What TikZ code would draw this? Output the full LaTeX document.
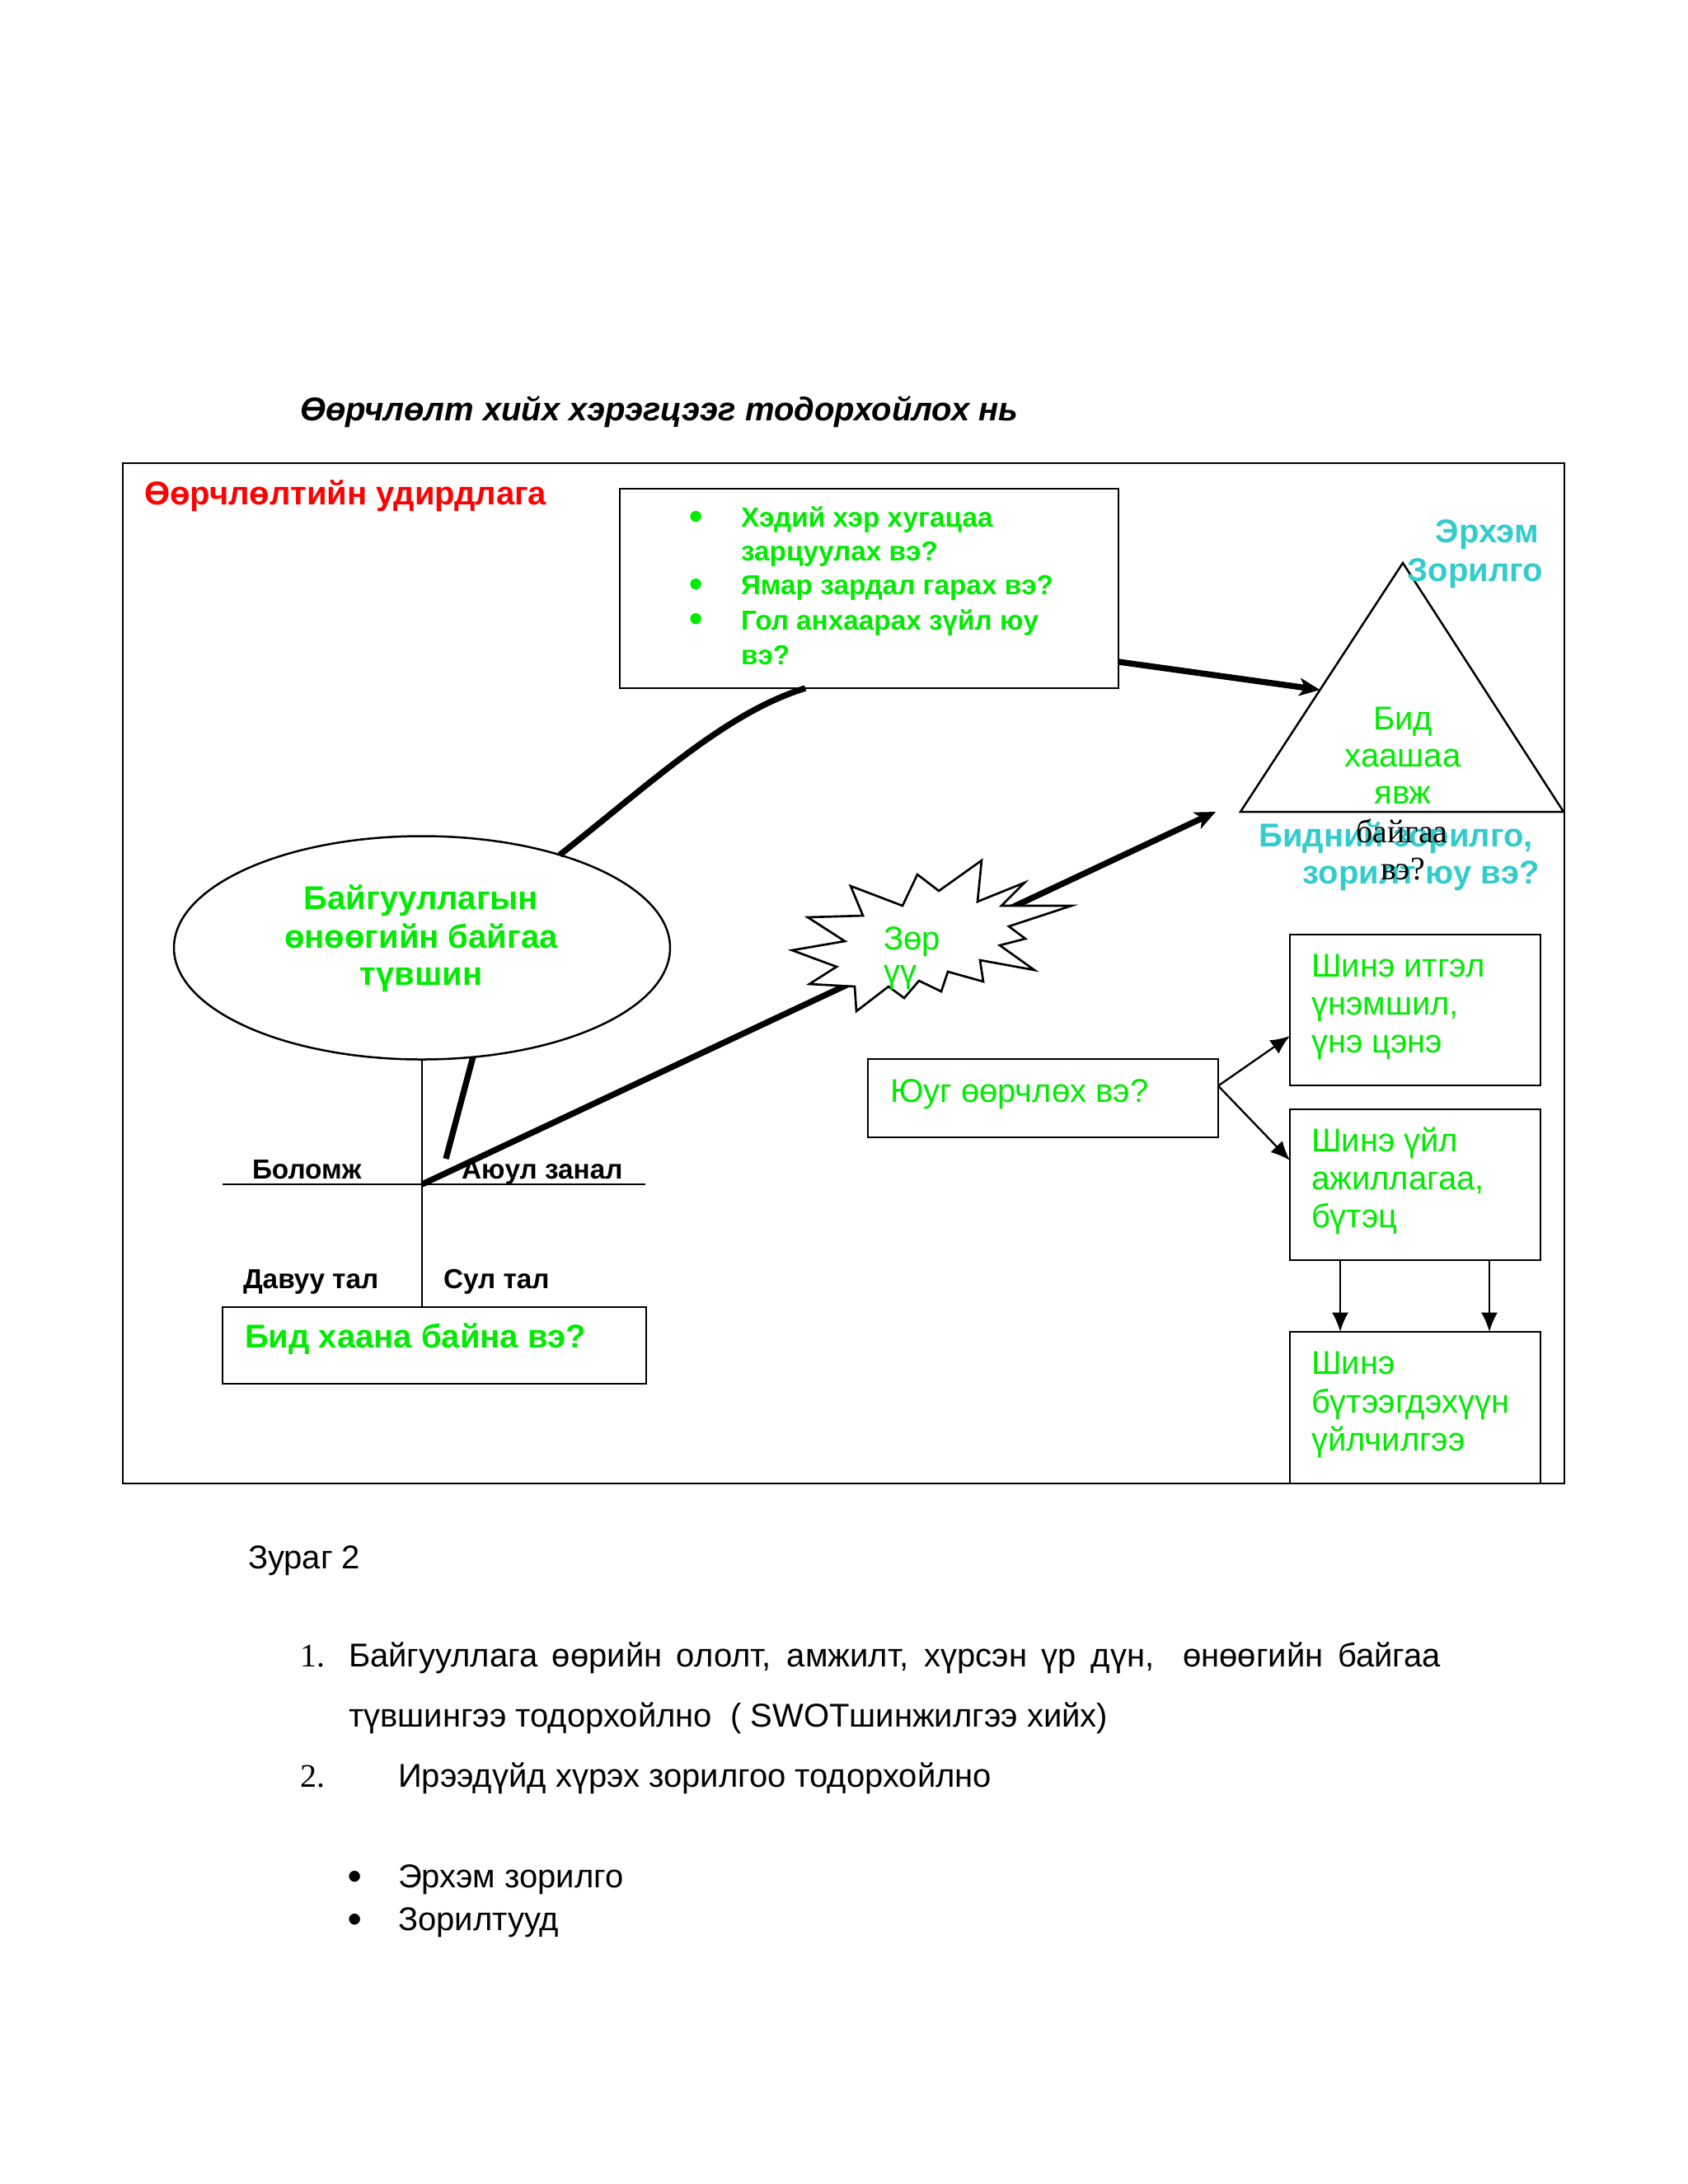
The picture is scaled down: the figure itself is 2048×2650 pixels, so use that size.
\documentclass[tikz,border=0pt]{standalone}
\usepackage{fontspec}
\setmainfont{Liberation Sans}
\newfontfamily\timesf{Liberation Serif}
\usetikzlibrary{shapes.geometric,arrows.meta,calc,fit}
\definecolor{brgreen}{RGB}{0,235,0}
\definecolor{turq}{RGB}{51,204,204}
\definecolor{myred}{RGB}{255,0,0}
\tikzset{
  t12/.style={inner sep=0pt, outer sep=0pt, font=\fontsize{12}{14}\selectfont},
  t12b/.style={inner sep=0pt, outer sep=0pt, font=\fontsize{12}{14}\selectfont\bfseries},
  t10b/.style={inner sep=0pt, outer sep=0pt, font=\fontsize{10}{12}\selectfont\bfseries},
  tbul/.style={inner sep=0pt, outer sep=0pt, font=\fontsize{14}{14}\selectfont\bfseries},
  tserif/.style={inner sep=0pt, outer sep=0pt, font=\fontsize{12}{14}\selectfont\timesf},
  tbox/.style={draw, line width=0.75pt, inner sep=0pt, outer sep=0pt},
  heavy/.style={line width=2.2pt},
  heavyarrow/.style={line width=2.2pt, -{Stealth[length=7.5pt,width=6.5pt,inset=2pt]}},
  thinarrow/.style={line width=0.7pt, -{Latex[length=7pt,width=6pt]}},
  thinline/.style={line width=0.6pt},
}
\begin{document}
\begin{tikzpicture}[x=0.3pt,y=-0.3pt]
\useasboundingbox[fill=white] (0,0) rectangle (2048,2650);

% title
\node[t12b, font=\fontsize{12}{14}\selectfont\bfseries\itshape, anchor=base west] (title) at (364,510) {Өөрчлөлт хийх хэрэгцээг тодорхойлох нь};

% frame
\node[tbox, line width=0.8pt, fit={(149,562) (1898,1800)}] (frame) {};
\node[t12b, text=myred, anchor=base west] (mgmt) at (175,612) {Өөрчлөлтийн удирдлага};

% bullet box
\node[tbox, fit={(752,593) (1357,835)}] (bq) {};
\node[tbul, text=brgreen, anchor=center] (bu1) at (845,631) {•};
\node[tbul, text=brgreen, anchor=center] (bu2) at (845,713) {•};
\node[tbul, text=brgreen, anchor=center] (bu3) at (845,755) {•};
\node[t10b, text=brgreen, anchor=base west] (q1a) at (899,639) {Хэдий хэр хугацаа};
\node[t10b, text=brgreen, anchor=base west] (q1b) at (899,680) {зарцуулах вэ?};
\node[t10b, text=brgreen, anchor=base west] (q2) at (899,721) {Ямар зардал гарах вэ?};
\node[t10b, text=brgreen, anchor=base west] (q3a) at (899,764) {Гол анхаарах зүйл юу};
\node[t10b, text=brgreen, anchor=base west] (q3b) at (899,806) {вэ?};

% triangle
\coordinate (tapex) at (1702,683);
\coordinate (tbl) at (1505,985);
\coordinate (tbr) at (1897,985);
\draw[line width=0.75pt] (tapex) -- (tbl) -- (tbr) -- cycle;
\node[t12b, text=turq, anchor=base east] (mis1) at (1867,658) {Эрхэм};
\node[t12b, text=turq, anchor=base east] (mis2) at (1872,705) {Зорилго};
\node[t12, text=brgreen, anchor=base] (tr1) at (1702,885) {Бид};
\node[t12, text=brgreen, anchor=base] (tr2) at (1702,930) {хаашаа};
\node[t12, text=brgreen, anchor=base] (tr3) at (1702,975) {явж};
\node[t12b, text=turq, anchor=base east] (goal1) at (1860,1027) {Бидний зорилго,};
\node[t12b, text=turq, anchor=base east] (goal2) at (1868,1072) {зорилт юу вэ?};
\node[tserif, anchor=base] (tr4) at (1701,1022) {байгаа};
\node[tserif, anchor=base] (tr5) at (1702,1067) {вэ?};

% ellipse
\node[draw, ellipse, line width=0.75pt, inner sep=0pt, outer sep=0pt, minimum width=180.6pt, minimum height=81.3pt] (ell) at (512,1150) {};
\node[t12b, text=brgreen, anchor=base] (el1) at (511,1103) {Байгууллагын};
\node[t12b, text=brgreen, anchor=base] (el2) at (511,1150) {өнөөгийн байгаа};
\node[t12b, text=brgreen, anchor=base] (el3) at (511,1195) {түвшин};

% SWOT cross
\node[tbox, fit={(270,1586) (784,1679)}] (bw) {};
\node[t12b, text=brgreen, anchor=base west] (bwt) at (297,1635) {Бид хаана байна вэ?};
\coordinate (xc) at (512,1437);
\coordinate (hl) at (270,1437);
\coordinate (hr) at (783,1437);
\draw[thinline] (ell.south) -- (ell.south |- bw.north);
\draw[thinline] (hl) -- (hr);
\node[t10b, anchor=base west] (sw1) at (306,1430) {Боломж};
\node[t10b, anchor=base west] (sw2) at (560,1430) {Аюул занал};
\node[t10b, anchor=base west] (sw3) at (295,1563) {Давуу тал};
\node[t10b, anchor=base west] (sw4) at (538,1563) {Сул тал};

% heavy connectors
\coordinate (cvend) at ($(bq.south west)!0.372!(bq.south east)$);
\draw[heavy] (ell.34) .. controls (790,950) and (880,865) .. (cvend);
\draw[heavyarrow] ($(bq.south east)+(0,-32)$) -- ($(tapex)!0.51!(tbl)$);
\coordinate (shortend) at (541,1406);
\draw[heavy] (ell.-65) -- (shortend);
\coordinate (starend) at (1475,985);
\draw[heavyarrow] (xc) -- (starend);

% starburst
\draw[line width=0.8pt, fill=white, line join=miter] (980,1113) -- (1047,1111) -- (1032,1075) -- (1095,1099) -- (1113,1061) -- (1139,1081) -- (1191,1044) -- (1186,1094) -- (1243,1071) -- (1215,1099) -- (1300,1099) -- (1224,1124) -- (1244,1139) -- (1213,1147) -- (1255,1177) -- (1189,1165) -- (1193,1191) -- (1150,1179) -- (1142,1203) -- (1115,1190) -- (1097,1211) -- (1078,1197) -- (1039,1227) -- (1037,1197) -- (982,1194) -- (1015,1173) -- (961,1153) -- (1025,1142) -- cycle;
\node[t12, text=brgreen, anchor=base west] (st1) at (1072,1152) {Зөр};
\node[t12, text=brgreen, anchor=base west] (st2) at (1072,1192) {үү};

% right side boxes
\node[tbox, fit={(1053,1285) (1478,1380)}] (bwhat) {};
\node[t12, text=brgreen, anchor=base west] (bwhatt) at (1080,1337) {Юуг өөрчлөх вэ?};
\node[tbox, fit={(1565,1134) (1869,1317)}] (b1) {};
\node[t12, text=brgreen, anchor=base west] (b1a) at (1591,1185) {Шинэ итгэл};
\node[t12, text=brgreen, anchor=base west] (b1b) at (1591,1231) {үнэмшил,};
\node[t12, text=brgreen, anchor=base west] (b1c) at (1591,1277) {үнэ цэнэ};
\node[tbox, fit={(1565,1346) (1869,1529)}] (b2) {};
\node[t12, text=brgreen, anchor=base west] (b2a) at (1591,1397) {Шинэ үйл};
\node[t12, text=brgreen, anchor=base west] (b2b) at (1591,1443) {ажиллагаа,};
\node[t12, text=brgreen, anchor=base west] (b2c) at (1591,1489) {бүтэц};
\node[tbox, fit={(1565,1616) (1869,1800)}] (b3) {};
\node[t12, text=brgreen, anchor=base west] (b3a) at (1591,1667) {Шинэ};
\node[t12, text=brgreen, anchor=base west] (b3b) at (1591,1714) {бүтээгдэхүүн};
\node[t12, text=brgreen, anchor=base west] (b3c) at (1591,1760) {үйлчилгээ};

\draw[thinarrow] ($(bwhat.east)+(0,-15)$) -- ($(b1.south west)+(0,-60)$);
\draw[thinarrow] ($(bwhat.east)+(0,-15)$) -- ($(b2.north west)+(0,62)$);
\draw[thinarrow] ($(b2.south west)+(61,0)$) -- ($(b3.north west)+(61,0)$);
\draw[thinarrow] ($(b2.south west)+(242,0)$) -- ($(b3.north west)+(242,0)$);

% text below
\node[t12, anchor=base west] (cap) at (301,1903) {Зураг 2};
\node[tserif, anchor=base west] (n1) at (364,2022) {1.};
\node[t12, anchor=base west] (l1a) at (423,2022) {\makebox[397.5pt][s]{Байгууллага өөрийн ололт, амжилт, хүрсэн үр дүн,\ \ өнөөгийн байгаа}};
\node[t12, anchor=base west] (l1b) at (423,2095) {түвшингээ тодорхойлно\ \ ( SWOTшинжилгээ хийх)};
\node[tserif, anchor=base west] (n2) at (364,2168) {2.};
\node[t12, anchor=base west] (l2) at (483,2168) {Ирээдүйд хүрэх зорилгоо тодорхойлно};
\node[tbul, anchor=base west] (bl1) at (422,2292) {•};
\node[t12, anchor=base west] (bt1) at (483,2290) {Эрхэм зорилго};
\node[tbul, anchor=base west] (bl2) at (422,2344) {•};
\node[t12, anchor=base west] (bt2) at (483,2342) {Зорилтууд};
\end{tikzpicture}
\end{document}
